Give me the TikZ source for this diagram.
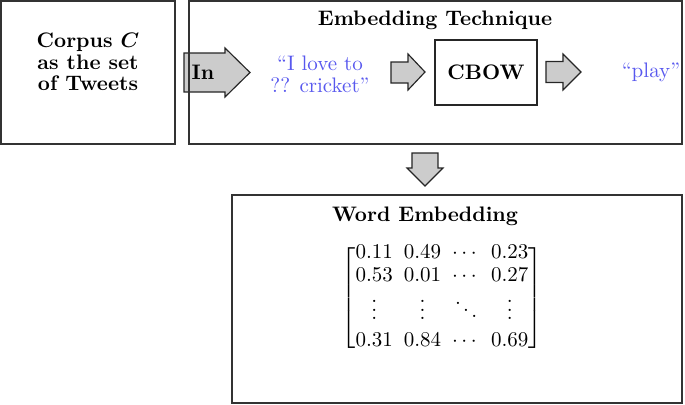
\documentclass[tikz,border=0pt]{standalone}
\usepackage{amsmath}
\definecolor{txtblue}{RGB}{88,88,238}
\definecolor{arrowgray}{RGB}{204,204,204}
\begin{document}
\begin{tikzpicture}[x=0.47619pt,y=-0.47619pt,
  box/.style={draw=black!80,line width=0.75pt,inner sep=0pt,outer sep=0pt,anchor=north west},
  blockarrow/.style={draw=black!85,fill=arrowgray,line width=0.55pt,line join=miter},
  title/.style={font=\bfseries,align=center,inner sep=0pt},
  bluetxt/.style={text=txtblue,align=center,inner sep=0pt}]
\useasboundingbox (0,0) rectangle (685,405);
% In arrow (drawn under the box border)
\draw[blockarrow] (184,53) -- (225,53) -- (225,48) -- (250,72.5) -- (225,97) -- (225,92) -- (184,92) -- cycle;
\node[title] (in) at (203,72) {In};
% boxes
\node[box,minimum width=174*0.47619pt,minimum height=143*0.47619pt] (corpusbox) at (1,1) {};
\node[box,minimum width=493*0.47619pt,minimum height=143*0.47619pt] (techbox) at (189,1) {};
\node[box,minimum width=450*0.47619pt,minimum height=208*0.47619pt] (wordbox) at (232,195) {};
% texts
\node[title,font=\fontsize{10}{10.25}\selectfont\bfseries] (corpus) at (88,62) {Corpus $\boldsymbol{C}$\\as the set\\of Tweets};
\node[title] (techtitle) at (435,20) {Embedding Technique};
\node[bluetxt,font=\fontsize{10}{10.5}\selectfont] (sentence) at (320,74) {``I love to\\?? cricket''};
\node[draw=black!85,line width=0.75pt,minimum width=102*0.47619pt,minimum height=65*0.47619pt,font=\bfseries] (cbow) at (486,72.5) {CBOW};
\node[bluetxt] (play) at (651,72) {``play''};
\node[title] (wordtitle) at (425,216) {Word Embedding};
\node[inner sep=0pt] (matrix) at (442,298) {\setlength{\arraycolsep}{2.6pt}\renewcommand{\arraystretch}{0.9}$\begin{bmatrix}
0.11 & 0.49 & \cdots & 0.23\\
0.53 & 0.01 & \cdots & 0.27\\
\vdots & \vdots & \ddots & \vdots\\[2pt]
0.31 & 0.84 & \cdots & 0.69
\end{bmatrix}$};
% arrows
\draw[blockarrow] (391,62) -- (408,62) -- (408,54) -- (425,72) -- (408,90) -- (408,83) -- (391,83) -- cycle;
\draw[blockarrow] (546,61.5) -- (563,61.5) -- (563,54) -- (581,72) -- (563,90) -- (563,82.5) -- (546,82.5) -- cycle;
\draw[blockarrow] (412,153) -- (438,153) -- (438,168) -- (443,168) -- (425,186) -- (407,168) -- (412,168) -- cycle;
\end{tikzpicture}
\end{document}
